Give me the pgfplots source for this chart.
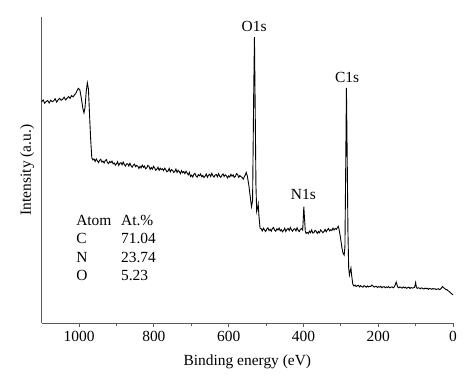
\documentclass[border=0pt]{standalone}
\usepackage{pgfplots}
\pgfplotsset{compat=1.18}
\usepackage{fontspec}
\setmainfont{Liberation Serif}
\begin{document}
\begin{tikzpicture}
\useasboundingbox (-41.7bp,-64bp) rectangle (432.3bp,323bp);
\begin{axis}[
  scale only axis,
  width=411.3bp, height=306bp,
  xmin=0, xmax=1100, ymin=0, ymax=100,
  x dir=reverse,
  axis x line*=bottom, axis y line*=left,
  axis line style={black!65, line width=0.9pt},
  xtick={0,200,...,1000},
  minor xtick={100,300,...,900},
  ytick=\empty,
  tick align=outside,
  major tick length=4bp, minor tick length=3bp,
  every tick/.style={black!65, line width=0.9pt},
  font=\fontsize{15.5}{18}\selectfont,
  /pgf/number format/assume math mode=true,
  /pgf/number format/1000 sep={},
  xticklabel style={yshift=-1bp},
  xlabel={Binding energy (eV)},
  xlabel style={yshift=-6bp},
  ylabel={Intensity (a.u.)},
  clip=false,
]
\addplot[black, line width=0.9pt] coordinates {
(1100,72.3)(1096,72.9)(1092,71.8)(1088,72.4)(1084,72.7)(1080,71.9)(1076,72.8)(1072,72.3)(1068,72.6)(1064,73.3)(1060,72.2)(1056,72.9)(1052,73.4)(1048,72.8)(1044,73.1)(1040,73.8)(1036,72.9)(1032,73.5)(1028,74.0)(1024,73.4)(1020,74.3)(1016,73.9)(1012,74.6)(1009,75.0)(1006,75.8)(1002,76.7)(998,76.2)(994,73.5)(990,70.2)(987,68.7)(984,70.5)(981,75.5)(978,78.5)(975,76.5)(972,68)(969,60)(966,54.0)(963,53.3)
(960,53.6)(957,52.8)(954,53.6)(951,53.0)(948,52.4)(945,53.2)(942,53.5)(939,52.6)(936,52.9)(933,52.3)(930,53.1)(927,53.4)(924,52.4)(921,52.1)(918,52.8)(915,52.4)(912,52.9)(909,52.0)(906,52.3)(903,51.6)
(900,52.0)(897,52.7)(894,51.5)(891,52.2)(888,52.4)(885,51.7)(882,52.6)(879,51.8)(876,51.3)(873,52.0)(870,52.0)(867,51.3)(864,52.2)(861,51.4)(858,50.9)(855,51.6)(852,51.9)(849,51.1)(846,51.5)(843,51.2)
(840,50.5)(837,51.2)(834,50.7)(831,51.6)(828,50.9)(825,51.3)(822,50.4)(819,50.7)(816,51.5)(813,51.2)(810,50.2)(807,50.8)(804,50.3)(801,51.2)(798,50.7)(795,49.9)(792,50.3)(789,50.9)(786,49.9)(783,50.6)
(780,50.1)(777,50.4)(774,49.8)(771,50.6)(768,50.1)(765,49.4)(762,49.7)(759,50.5)(756,49.4)(753,50.1)(750,49.9)(747,49.2)(744,49.5)(741,50.3)(738,49.2)(735,49.9)(732,49.5)(729,48.8)(726,49.8)(723,49.1)
(720,49.5)(717,48.8)(714,49.6)(711,49.0)(708,48.4)(705,49.2)(702,47.9)(699,48.3)(696,47.7)(693,48.6)(690,48.9)(687,48.0)(684,47.7)(681,48.5)(678,48.1)(675,48.7)(672,47.8)(669,48.2)(666,47.5)
(663,48.0)(660,48.7)(657,47.6)(654,48.3)(651,48.6)(648,47.9)(645,48.9)(642,48.1)(639,47.7)(636,48.4)(633,48.5)(630,47.8)(627,48.8)(624,48.0)(621,47.6)(618,48.3)(615,48.7)(612,47.9)(609,48.4)(606,48.1)
(603,47.4)(600,48.1)(597,47.7)(594,48.6)(591,48.0)(588,48.4)(585,47.6)(582,47.9)(579,48.8)(576,48.5)(573,47.6)(570,48.2)(567,47.8)(564,47.6)(561,47.0)(558,47.8)(555,48.5)(553,49.2)(550,48.0)(546,45.0)(542,41.0)(539,38.0)(536,40)(533,75)(531,93.4)(529,70)(527,45)(525,36.4)(523,37.5)(521,38.9)(519,35.0)(516,31.0)
(513,30.8)(510,30.1)(507,31.0)(504,30.4)(501,29.9)(498,30.7)(495,31.1)(492,30.2)(489,30.6)(486,30.0)(483,30.9)(480,31.2)(477,30.3)(474,30.0)(471,30.8)(468,30.4)(465,31.0)(462,30.1)(459,30.5)(456,29.8)(453,30.3)(450,31.0)(447,29.9)(444,30.6)(441,30.9)(438,30.2)(435,31.2)(432,30.4)(429,30.0)(426,30.7)(423,30.8)(420,30.1)(417,31.1)(414,30.3)(411,29.9)(408,30.6)(405,30.9)(402,30.4)(400,35.0)(399,38.0)(397,34)(395,30.0)
(393,29.3)(390,29.6)(387,29.2)(384,30.0)(381,29.5)(378,30.4)(375,29.4)(372,29.5)(369,30.3)(366,30.0)(363,29.3)(360,29.9)(357,29.5)(354,30.4)(351,30.0)(348,29.5)(345,29.9)(342,30.6)(339,29.8)(336,30.4)(333,30.9)(330,30.1)(327,30.5)(324,30.2)(321,31.0)(318,30.4)(315,30.9)(312,30.6)(309,31.2)(307,31.6)(305,30.8)(301,28)(297,24.5)(294,22.8)(291,22.2)(289,25)(287,50)(285,76.8)(283,55)(281,30)(279,18)(277,15.7)(275,17.0)(273,18.0)(271,15.5)(268,12.7)
(265,12.1)(262,12.4)(259,11.9)(256,12.2)(253,12.3)(250,11.8)(247,12.2)(244,11.9)(241,11.7)(238,12.2)(235,12.0)(232,11.7)(229,12.1)(226,11.8)(223,12.0)(220,11.9)(217,12.4)(214,12.1)(211,11.7)(208,11.9)(205,12.0)(202,11.6)(199,11.9)(196,11.7)(193,12.0)(190,11.5)(187,11.8)(184,11.9)(181,11.5)(178,11.8)(175,11.6)(172,11.9)(169,11.5)(166,11.7)(163,11.8)(160,11.5)(157,11.8)(154,12.6)(152,13.4)(150,12.6)(148,11.8)(145,11.5)(142,11.8)(139,11.6)(136,11.4)(133,11.8)(130,11.5)(127,11.7)(124,11.3)(121,11.6)(118,11.7)(115,11.3)(112,11.6)(109,11.4)(106,11.5)(103,11.6)(101,12.6)(100,13.2)(98,11.8)(96,11.3)(93,11.5)(90,11.4)(87,11.2)(84,11.5)(81,11.3)(78,11.1)(75,11.4)(72,11.2)(69,11.4)(66,11.0)(63,11.3)(60,11.2)(57,11.0)(54,11.3)(51,11.1)(48,11.2)(45,10.9)(42,11.1)(39,11.2)(36,10.9)(33,11.1)(30,11.6)(28,11.9)(25,11.5)(22,11.3)(19,10.9)(16,10.9)(13,10.5)(10,10.3)(7,9.9)(4,9.6)(2,9.4)(0,9.2)
};
\node[anchor=base] at (axis cs:532,95.2) {O1s};
\node[anchor=base] at (axis cs:283.4,78.6) {C1s};
\node[anchor=base] at (axis cs:400,40.3) {N1s};
\node[anchor=base west, inner sep=0pt] at (axis cs:1008,31.8) {Atom};
\node[anchor=base west, inner sep=0pt] at (axis cs:888,31.8) {At.\%};
\node[anchor=base west, inner sep=0pt] at (axis cs:1008,25.9) {C};
\node[anchor=base west, inner sep=0pt] at (axis cs:888,25.9) {71.04};
\node[anchor=base west, inner sep=0pt] at (axis cs:1008,19.7) {N};
\node[anchor=base west, inner sep=0pt] at (axis cs:888,19.7) {23.74};
\node[anchor=base west, inner sep=0pt] at (axis cs:1008,13.8) {O};
\node[anchor=base west, inner sep=0pt] at (axis cs:888,13.8) {5.23};
\end{axis}
\end{tikzpicture}
\end{document}
